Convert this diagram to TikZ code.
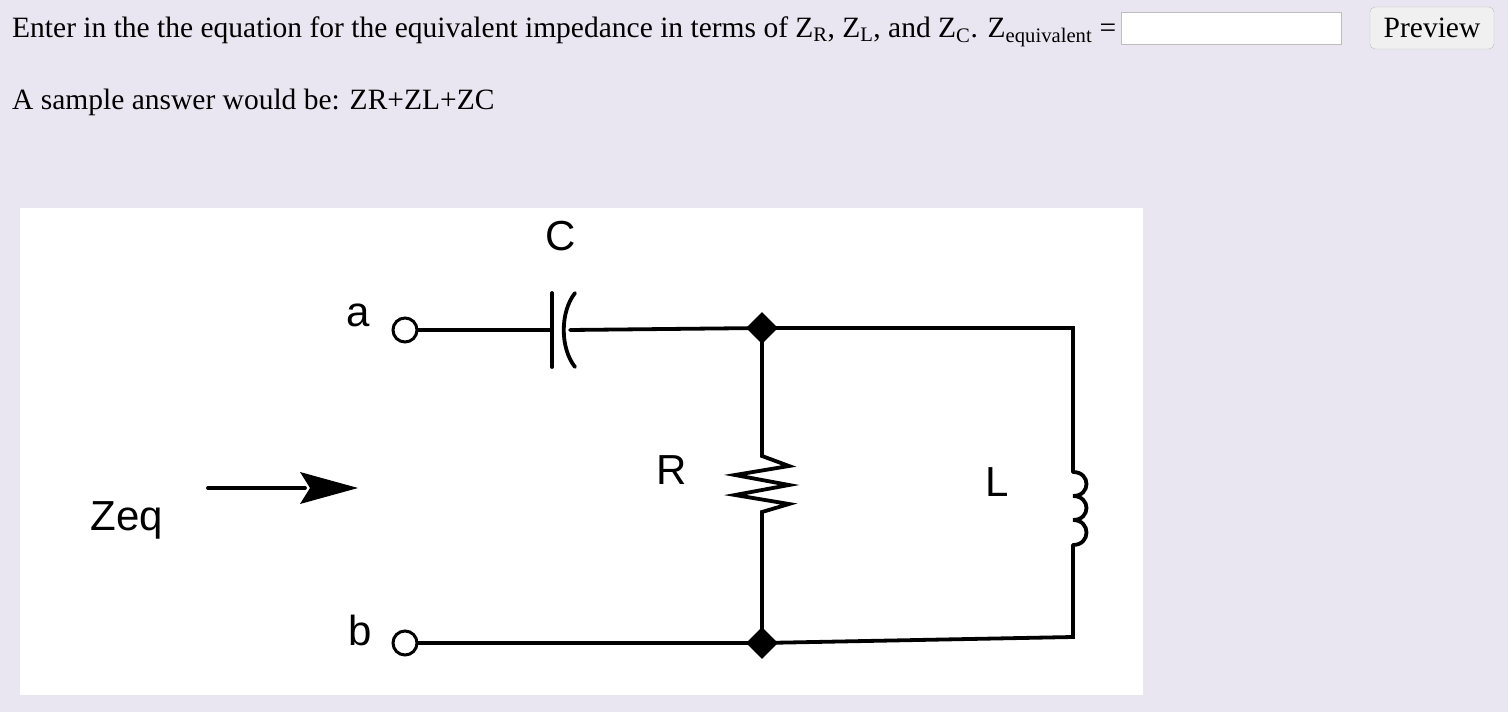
\documentclass[tikz,border=0pt]{standalone}
\usepackage{fontspec}
\usetikzlibrary{shapes.geometric}
\setmainfont{Liberation Serif}
\setsansfont{Liberation Sans}
\begin{document}
\begin{tikzpicture}[x=1pt,y=-1pt,
  wire/.style={line width=3.8pt,line cap=round},
  lbl/.style={font=\sffamily\fontsize{42}{42}\selectfont,inner sep=0},
  txt/.style={font=\fontsize{29.5}{29.5}\selectfont,inner sep=0,anchor=base west},
  dot/.style={fill=black,diamond,minimum width=32pt,minimum height=32pt,inner sep=0},
  term/.style={circle,draw,line width=3pt,fill=white,minimum size=24pt,inner sep=0}]
\fill[fill={rgb,255:red,233;green,230;blue,241}] (0,0) rectangle (1508,712);
\useasboundingbox (0,0) rectangle (1508,712);
\node[txt] (t1) at (12,37) {Enter in the the equation for the equivalent impedance in terms of Z\textsubscript{R}, Z\textsubscript{L}, and Z\textsubscript{C}. Z\textsubscript{equivalent} =};
\node[draw={rgb,255:red,190;green,190;blue,190},fill=white,minimum width=220pt,minimum height=32pt,inner sep=0] (box) at (1231,28) {};
\node[draw={rgb,255:red,190;green,190;blue,190},fill={rgb,255:red,240;green,240;blue,240},rounded corners=5pt,minimum width=124pt,minimum height=42pt,inner sep=0,font=\fontsize{29.5}{29.5}\selectfont] (btn) at (1432,28) {Preview};
\node[txt] (t2) at (12,109) {A sample answer would be: ZR+ZL+ZC};
\fill[white] (20,208) rectangle (1143,695);
\coordinate (c1) at (552,330);
\coordinate (c2) at (570,330);
\coordinate (ntop) at (762,328);
\coordinate (nbot) at (762,643);
\coordinate (rtop) at (762,456);
\coordinate (rbot) at (762,524);
\coordinate (tr) at (1073,328);
\coordinate (br) at (1073,637);
\coordinate (ltop) at (1073,472);
\coordinate (lbot) at (1073,545);
\draw[wire] (405,330) -- (c1);
\draw[wire] (405,643) -- (nbot);
\node[term] (a) at (405,330) {};
\node[term] (b) at (405,643) {};
\draw[wire] (c1) ++(0,-37) -- ++(0,74);
\draw[wire] (575,293) .. controls (560,312) and (560,348) .. (575,367);
\draw[wire] (c2) -- (ntop) -- (tr) -- (ltop);
\draw[wire] (ntop) -- (rtop) -- ++(27,10) -- ++(-54,9) -- ++(54,10) -- ++(-54,10) -- ++(54,9) -- ++(-27,8) -- (rbot);
\draw[wire] (rbot) -- (nbot);
\draw[wire] (nbot) -- (br) -- (lbot);
\draw[wire] (ltop) .. controls (1091,472) and (1091,496) .. (1073,496)
  .. controls (1091,496) and (1091,520) .. (1073,520)
  .. controls (1091,520) and (1091,545) .. (lbot);
\node[dot] (d1) at (ntop) {};
\node[dot] (d2) at (nbot) {};
\coordinate (as) at (208,488);
\coordinate (ah) at (305,488);
\draw[wire] (as) -- (ah);
\fill (300,472) -- (358,488) -- (300,504) -- (310,488) -- cycle;
\node[lbl] (C) at (561,236) {C};
\node[lbl] (R) at (672,470) {R};
\node[lbl] (L) at (997,482) {L};
\node[lbl] (la) at (358,315) {a};
\node[lbl] (lb) at (360,630) {b};
\node[lbl] (z) at (127,520) {Zeq};
\end{tikzpicture}
\end{document}
